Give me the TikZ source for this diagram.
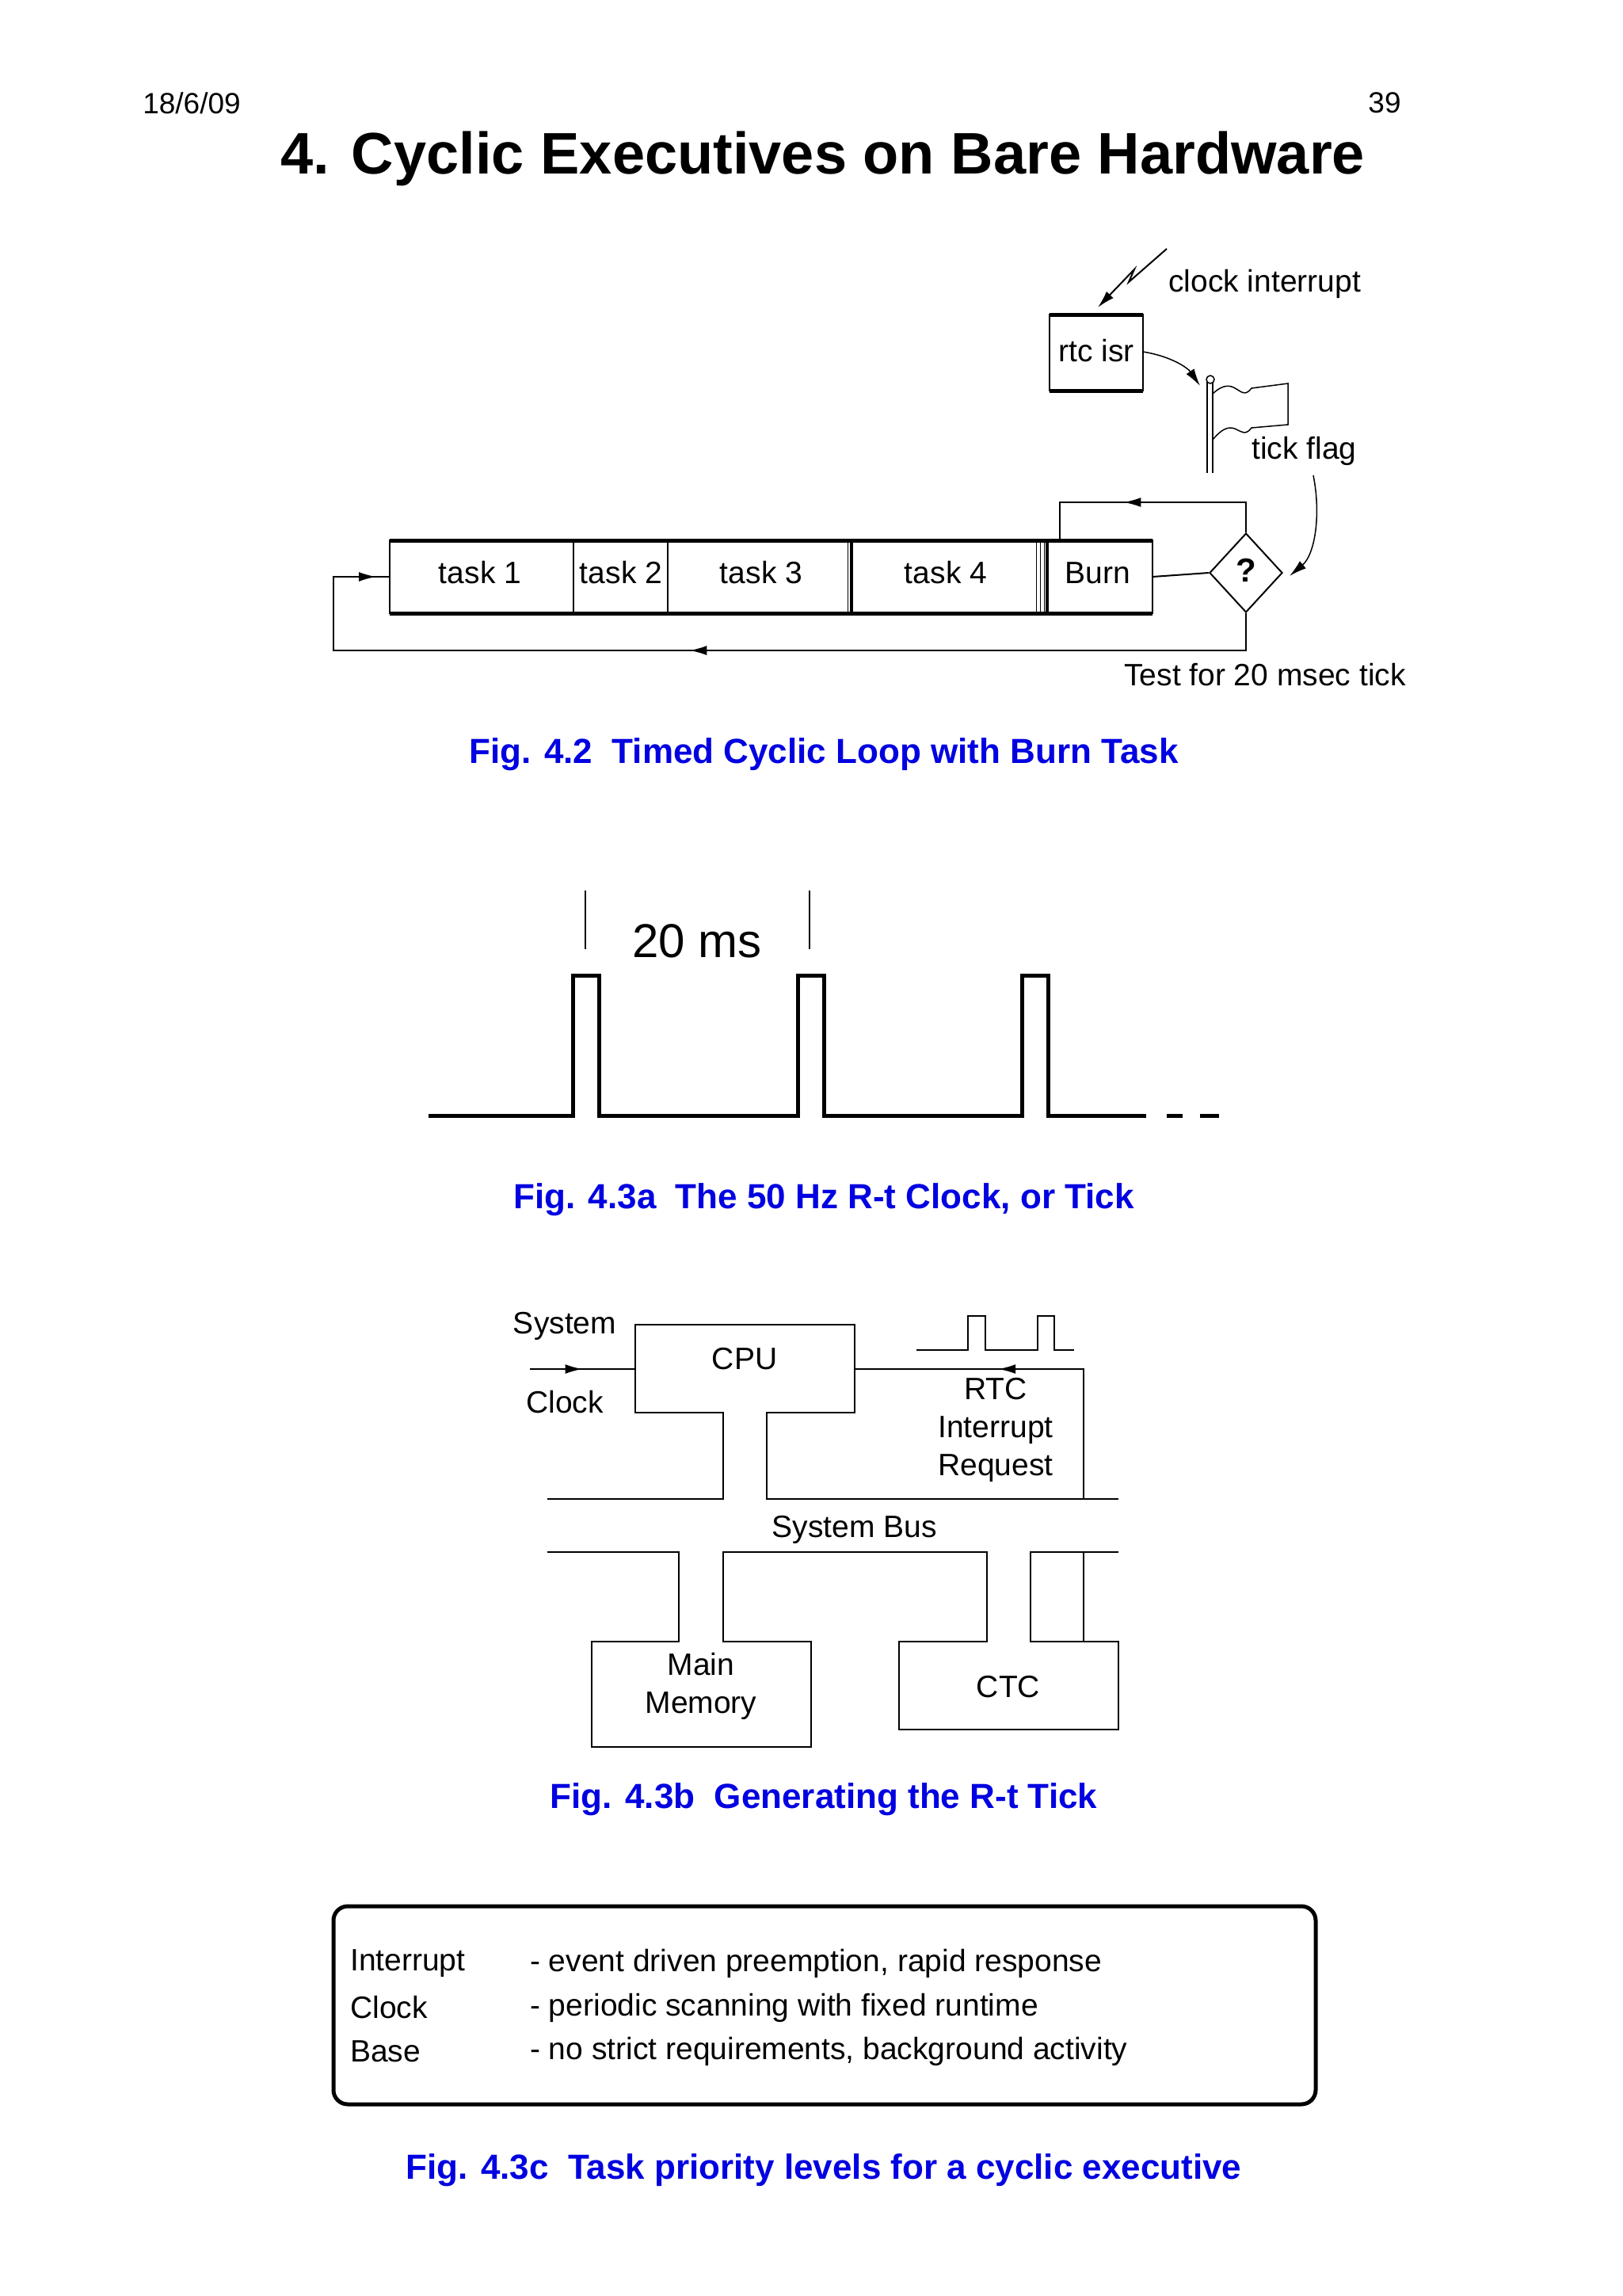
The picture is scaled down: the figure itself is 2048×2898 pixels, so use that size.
\documentclass[tikz,border=0pt]{standalone}
\usepackage{fontspec}
\setmainfont{Liberation Sans}
\usetikzlibrary{arrows.meta,decorations.markings,shapes.geometric}
\definecolor{capblue}{RGB}{0,0,225}
\begin{document}
\begin{tikzpicture}[x=1pt,y=-1pt,
  thinl/.style={line width=2pt},
  thickl/.style={line width=5pt},
  txt/.style={font=\fontsize{39}{46}\selectfont,inner sep=0pt},
  figcap/.style={font=\fontsize{44}{52}\selectfont\bfseries,text=capblue,inner sep=0pt},
  midarr/.style={decoration={markings,mark=at position #1 with {\arrow{Latex[length=22pt,width=12pt]}}},postaction=decorate},
  tip/.style={-{Latex[length=22pt,width=12pt]}}]
\useasboundingbox (0,0) rectangle (2048,2898);
\fill[white] (0,0) rectangle (2048,2898);
\node[font=\fontsize{37}{44}\selectfont,inner sep=0pt] (date) at (242,130) {18/6/09};
\node[font=\fontsize{37}{44}\selectfont,inner sep=0pt] (page) at (1748,130) {39};
\node[font=\fontsize{74}{88}\selectfont\bfseries,inner sep=0pt] (title) at (1039,200) {4. Cyclic Executives on Bare Hardware};

% ---- Fig 4.2
\node[draw,thinl,minimum width=118pt,minimum height=96pt,inner sep=0pt] (isr) at (1384,445) {};
\draw[thickl] (1325,397)--(1443,397) (1325,493)--(1443,493);
\node[txt] at (1384,443) {rtc isr};
\node[txt,anchor=west] (ci) at (1475,358) {clock interrupt};
\coordinate (l0) at (1473,314);
\coordinate (l1) at (1386,388);
\draw[thinl,tip] (l0)--(1425,356)--(1432,340)--(l1);
% flag
\draw[line width=1.5pt] (1524,482)--(1524,597) (1531,482)--(1531,597);
\draw[line width=1.5pt,fill=white] (1528,479) circle (5);
\draw[line width=1.5pt] (1531,497) .. controls (1560,470) and (1565,510) .. (1580,490) -- (1626,484) -- (1626,536) -- (1580,540) .. controls (1565,560) and (1560,520) .. (1531,555);
\node[txt,anchor=west] (tf) at (1580,569) {tick flag};
\coordinate (fl) at (1515,487);
\draw[line width=1.5pt,tip] (1443,444) .. controls (1480,450) and (1500,465) .. (fl);
% task bar
\node[draw,thinl,minimum width=963pt,minimum height=92pt,inner sep=0pt] (bar) at (973.5,728) {};
\draw[thickl] (492,682)--(1455,682) (492,774)--(1455,774);
\draw[thinl] (724,682)--(724,774) (843,682)--(843,774);
\draw[line width=1pt] (1070,682)--(1070,774) (1313,682)--(1313,774) (1318,682)--(1318,774);
\draw[line width=3.5pt] (1075,682)--(1075,774) (1322,682)--(1322,774);
\draw[line width=1pt] (1308,682)--(1308,774);
\node[txt] (t1) at (606,723) {task 1};
\node[txt] (t2) at (784,723) {task 2};
\node[txt] (t3) at (961,723) {task 3};
\node[txt] (t4) at (1194,723) {task 4};
\node[txt] (burn) at (1386,723) {Burn};
\node[draw,thinl,shape=diamond,minimum width=92pt,minimum height=100pt,inner sep=0pt] (q) at (1573,723) {};
\node[font=\fontsize{42}{50}\selectfont\bfseries,inner sep=0pt] at (1573,720) {?};
\draw[thinl] (1455,728)--(q.west);
\draw[thinl,midarr=0.6] (q.north)--(1573,634)--(1338,634)--(1338,682);
\draw[thinl,midarr=0.55] (q.south)--(1573,821)--(421,821)--(421,728)--(492,728);
\draw[thinl,tip] (445,728)--(475,728);
\draw[line width=1.5pt,tip] (1658,600) .. controls (1668,650) and (1660,700) .. (1628,727);
\node[txt] (test) at (1597,852) {Test for 20 msec tick};
\node[figcap] (c42) at (1040,952) {Fig. 4.2\ \ Timed Cyclic Loop with Burn Task};

% ---- Fig 4.3a
\draw[line width=5pt] (541,1408)--(723,1408)--(723,1231)--(756,1231)--(756,1408)--(1007,1408)--(1007,1231)--(1040,1231)--(1040,1408)--(1290,1408)--(1290,1231)--(1323,1231)--(1323,1408)--(1447,1408);
\draw[line width=5pt] (1473,1408)--(1493,1408) (1515,1408)--(1539,1408);
\draw[thinl] (739,1124)--(739,1198) (1022,1124)--(1022,1198);
\node[font=\fontsize{60}{70}\selectfont,inner sep=0pt] (ms) at (880,1188) {20 ms};
\node[figcap] (c43a) at (1040,1514) {Fig. 4.3a\ \ The 50 Hz R-t Clock, or Tick};

% ---- Fig 4.3b
\draw[thinl] (691,1892)--(913,1892)--(913,1783)--(802,1783)--(802,1672)--(1079,1672)--(1079,1783)--(968,1783)--(968,1892)--(1412,1892);
\node[txt] (cpu) at (940,1715) {CPU};
\draw[thinl,midarr=0.6] (1368,1892)--(1368,1728)--(1079,1728);
\draw[thinl,midarr=0.5] (669,1728)--(802,1728);
\draw[thinl] (1157,1704)--(1222,1704)--(1222,1661)--(1244,1661)--(1244,1704)--(1310,1704)--(1310,1661)--(1331,1661)--(1331,1704)--(1356,1704);
\node[txt] (sys) at (713,1674) {System};
\node[txt] (clk) at (713,1770) {Clock};
\node[txt,align=center,font=\fontsize{39}{48}\selectfont] (rtc) at (1257,1805) {RTC\\Interrupt\\Request};
\node[txt] (bus) at (1079,1931) {System Bus};
\draw[thinl] (691,1959)--(857,1959)--(857,2072)--(747,2072)--(747,2205)--(1024,2205)--(1024,2072)--(913,2072)--(913,1959)--(1246,1959)--(1246,2072)--(1135,2072)--(1135,2183)--(1412,2183)--(1412,2072)--(1301,2072)--(1301,1959)--(1412,1959);
\draw[thinl] (1368,1959)--(1368,2072);
\node[txt,align=center,font=\fontsize{39}{48}\selectfont] (mem) at (885,2128) {Main\\Memory};
\node[txt] (ctc) at (1273,2129) {CTC};
\node[figcap] (c43b) at (1040,2271) {Fig. 4.3b\ \ Generating the R-t Tick};

% ---- Fig 4.3c
\draw[line width=5pt,rounded corners=18pt] (421,2406) rectangle (1661,2656);
\node[txt,anchor=west] at (442,2478) {Interrupt};
\node[txt,anchor=west] at (442,2534) {Clock};
\node[txt,anchor=west] at (442,2589) {Base};
\node[txt,anchor=west] at (669,2478) {- event driven preemption, rapid response};
\node[txt,anchor=west] at (669,2534) {- periodic scanning with fixed runtime};
\node[txt,anchor=west] at (669,2589) {- no strict requirements, background activity};
\node[figcap] (c43c) at (1040,2739) {Fig. 4.3c\ \ Task priority levels for a cyclic executive};
\end{tikzpicture}
\end{document}
